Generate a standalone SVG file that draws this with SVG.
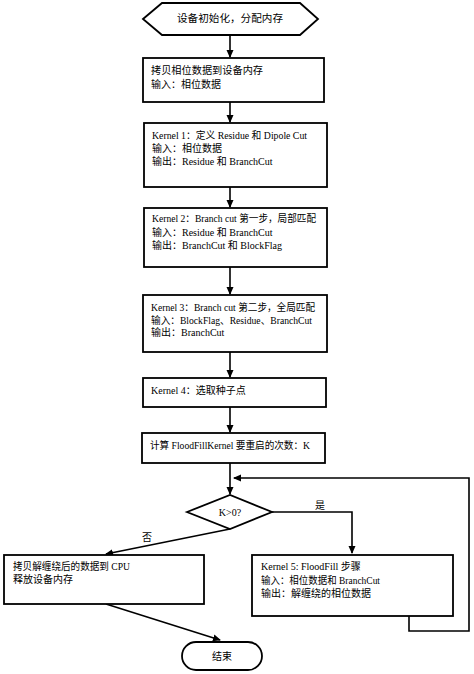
<svg xmlns="http://www.w3.org/2000/svg" width="474" height="674" viewBox="0 0 474 674">
<defs>
<marker id="ah" markerWidth="8" markerHeight="8" refX="7" refY="4" orient="auto" markerUnits="userSpaceOnUse">
<path d="M0,0.5 L8,4 L0,7.5 Z" fill="#000"/>
</marker>
<style>
.n{fill:#fff;stroke:#000;stroke-width:1.8}
.t{font-family:"Liberation Serif","Noto Sans CJK SC",serif;font-size:10px;fill:#000}
.c{text-anchor:middle}
.e{fill:none;stroke:#000;stroke-width:1.6}
</style>
</defs>
<rect width="474" height="674" fill="#fff"/>
<g id="connectors">
<line class="e" x1="230" y1="35" x2="230" y2="57" marker-end="url(#ah)"/>
<line class="e" x1="230" y1="102" x2="230" y2="122" marker-end="url(#ah)"/>
<line class="e" x1="230" y1="187" x2="230" y2="207" marker-end="url(#ah)"/>
<line class="e" x1="230" y1="267" x2="230" y2="294" marker-end="url(#ah)"/>
<line class="e" x1="230" y1="352" x2="230" y2="377" marker-end="url(#ah)"/>
<line class="e" x1="230" y1="407" x2="230" y2="432" marker-end="url(#ah)"/>
<line class="e" x1="230" y1="463" x2="230" y2="494" marker-end="url(#ah)"/>
<polyline class="e" points="272,512 352,512 352,553" marker-end="url(#ah)"/>
<line class="e" x1="230" y1="529" x2="106" y2="554" marker-end="url(#ah)"/>
<line class="e" x1="106" y1="604" x2="220" y2="640" marker-end="url(#ah)"/>
<polyline class="e" points="409,616 409,631 469,631 469,478 234,478" marker-end="url(#ah)"/>
<text class="t c" x="320" y="509">是</text>
<text class="t c" x="147" y="541">否</text>
</g>
<g id="start">
<polygon class="n" points="143,19 162,3 300,3 318,19 300,35 162,35"/>
<text class="t c" x="230" y="22" textLength="106" lengthAdjust="spacingAndGlyphs">设备初始化，分配内存</text>
</g>
<g id="copy-in">
<rect class="n" x="143" y="58" width="181" height="44"/>
<text class="t" x="151" y="74" textLength="112" lengthAdjust="spacingAndGlyphs">拷贝相位数据到设备内存</text>
<text class="t" x="151" y="88">输入：相位数据</text>
</g>
<g id="kernel1">
<rect class="n" x="144" y="123" width="183" height="64"/>
<text class="t" x="152" y="139" textLength="155" lengthAdjust="spacingAndGlyphs">Kernel 1：定义 Residue 和  Dipole Cut</text>
<text class="t" x="152" y="152">输入：相位数据</text>
<text class="t" x="152" y="165">输出：Residue 和 BranchCut</text>
</g>
<g id="kernel2">
<rect class="n" x="144" y="208" width="183" height="59"/>
<text class="t" x="152" y="222" textLength="164" lengthAdjust="spacingAndGlyphs">Kernel 2：Branch cut 第一步，局部匹配</text>
<text class="t" x="152" y="236">输入：Residue 和 BranchCut</text>
<text class="t" x="152" y="249">输出：BranchCut 和 BlockFlag</text>
</g>
<g id="kernel3">
<rect class="n" x="143" y="295" width="184" height="57"/>
<text class="t" x="151" y="311" textLength="164" lengthAdjust="spacingAndGlyphs">Kernel 3：Branch cut 第二步，全局匹配</text>
<text class="t" x="151" y="324" textLength="161" lengthAdjust="spacingAndGlyphs">输入：BlockFlag、Residue、BranchCut</text>
<text class="t" x="151" y="336">输出：BranchCut</text>
</g>
<g id="kernel4">
<rect class="n" x="143" y="378" width="183" height="29"/>
<text class="t" x="151" y="394">Kernel 4：选取种子点</text>
</g>
<g id="count">
<rect class="n" x="142" y="433" width="183" height="30"/>
<text class="t" x="150" y="449" textLength="160" lengthAdjust="spacingAndGlyphs">计算 FloodFillKernel 要重启的次数：K</text>
</g>
<g id="decision">
<polygon class="n" points="187,512 230,495 272,512 230,529"/>
<text class="t c" x="230" y="516">K&gt;0?</text>
</g>
<g id="kernel5">
<rect class="n" x="252" y="555" width="201" height="61"/>
<text class="t" x="261" y="570">Kernel 5: FloodFill 步骤</text>
<text class="t" x="261" y="584" textLength="119" lengthAdjust="spacingAndGlyphs">输入：相位数据和 BranchCut</text>
<text class="t" x="261" y="597">输出：解缠绕的相位数据</text>
</g>
<g id="copy-out">
<rect class="n" x="4" y="555" width="200" height="49"/>
<text class="t" x="13" y="570" textLength="117" lengthAdjust="spacingAndGlyphs">拷贝解缠绕后的数据到 CPU</text>
<text class="t" x="13" y="583">释放设备内存</text>
</g>
<g id="end">
<rect class="n" x="182" y="642" width="80" height="28" rx="14" ry="14"/>
<text class="t c" x="222" y="660">结束</text>
</g>
</svg>
